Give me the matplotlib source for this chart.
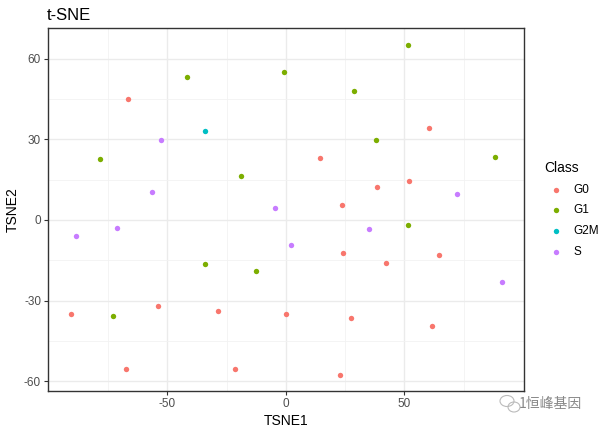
import matplotlib
matplotlib.use("Agg")
import matplotlib.pyplot as plt
from matplotlib.ticker import FixedLocator
from matplotlib.patches import Ellipse

plt.rcParams['font.family'] = ['Liberation Sans', 'Noto Sans CJK SC', 'DejaVu Sans']
plt.rcParams['axes.unicode_minus'] = False

classes = ["G0", "G1", "G2M", "S"]
colors = {"G0": "#F8766D", "G1": "#7CAE00", "G2M": "#00BFC4", "S": "#C77CFF"}

g0_x = [-66.4, 60.5, 14.3, 38.2, 52.1, 23.5, 24.0, 42.4, 64.7, -90.8, -53.8, -28.6, 0.0, 27.3, 61.8, -67.6, -21.4, 22.7]
g0_y = [45.0, 34.2, 23.0, 12.3, 14.5, 5.6, -12.3, -16.0, -13.0, -35.0, -32.0, -33.8, -35.0, -36.4, -39.4, -55.4, -55.4, -57.6]
g1_x = [-41.9, -1.0, 51.4, 28.9, -78.4, 37.9, 88.1, -18.8, 51.4, -34.3, -12.7, -72.7]
g1_y = [53.3, 55.0, 65.0, 48.0, 22.6, 29.6, 23.5, 16.2, -1.9, -16.5, -18.8, -35.6]
g2m_x = [-33.9]
g2m_y = [33.0]
s_x = [-52.6, -56.6, -4.7, -88.5, -71.3, 2.2, 35.2, 72.3, 91.2]
s_y = [29.6, 10.3, 4.6, -5.8, -2.9, -9.2, -3.5, 9.6, -22.9]

x_ticks = [-50, 0, 50]
y_ticks = [-60, -30, 0, 30, 60]
x_minor = [-75, -25, 25, 75]
y_minor = [-45, -15, 15, 45]

data = {"G0": (g0_x, g0_y), "G1": (g1_x, g1_y), "G2M": (g2m_x, g2m_y), "S": (s_x, s_y)}

fig = plt.figure(figsize=(6, 4.3), dpi=100)
ax = fig.add_axes([0.08, 0.0907, 0.793, 0.8443])

for c in classes:
    x, y = data[c]
    ax.scatter(x, y, s=15, color=colors[c], label=c, zorder=3, linewidths=0)

ax.set_xlim(-100.3, 100.3)
ax.set_ylim(-63.6, 71.4)
ax.xaxis.set_major_locator(FixedLocator(x_ticks))
ax.xaxis.set_minor_locator(FixedLocator(x_minor))
ax.yaxis.set_major_locator(FixedLocator(y_ticks))
ax.yaxis.set_minor_locator(FixedLocator(y_minor))
ax.grid(which='major', color='#EBEBEB', linewidth=1.0, zorder=0)
ax.grid(which='minor', color='#F2F2F2', linewidth=0.6, zorder=0)
ax.set_axisbelow(True)
for sp in ax.spines.values():
    sp.set_color('#333333')
    sp.set_linewidth(1.0)
ax.tick_params(which='major', length=3, color='#333333', labelsize=8.5, labelcolor='#4D4D4D', pad=2)
ax.tick_params(which='minor', length=0)

ax.set_xlabel("TSNE1", fontsize=10, color='black', labelpad=3)
ax.set_ylabel("TSNE2", fontsize=10, color='black', labelpad=3)
ax.set_title("t-SNE", fontsize=12, loc='left', pad=6, x=-0.002)

leg = ax.legend(title="Class", loc='center left', bbox_to_anchor=(1.02, 0.5), frameon=False,
                fontsize=8.5, title_fontsize=10, markerscale=1.0, handletextpad=0.5,
                labelspacing=0.75, borderaxespad=0.5)
leg._legend_box.align = "left"

# watermark
fig.patches.append(Ellipse((507 / 600, 1 - 401 / 430), 14 / 600, 11 / 430, transform=fig.transFigure,
                           fill=False, edgecolor='#BBBBBB', linewidth=0.8))
fig.patches.append(Ellipse((514 / 600, 1 - 407 / 430), 12 / 600, 10 / 430, transform=fig.transFigure,
                           fill=False, edgecolor='#BBBBBB', linewidth=0.8))
fig.text(0.917, 1 - 404 / 430, "1恒峰基因", fontsize=10, color='#888888', ha='center', va='center',
         family=['Noto Sans CJK SC', 'DejaVu Sans'])

fig.savefig("out.png", dpi=100)
